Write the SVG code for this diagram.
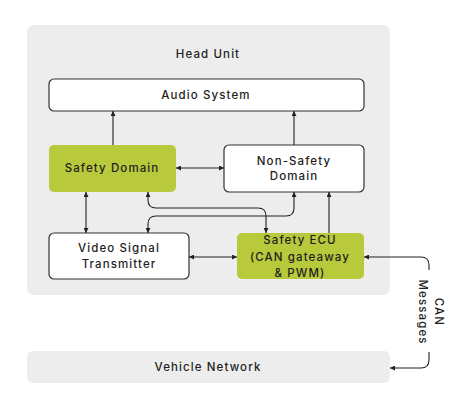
<svg xmlns="http://www.w3.org/2000/svg" width="474" height="412" viewBox="0 0 474 412">
<defs>
<marker id="ah" viewBox="0 0 10 10" refX="10" refY="5" markerWidth="5" markerHeight="5" markerUnits="userSpaceOnUse" orient="auto-start-reverse">
<path d="M0,0 L10,5 L0,10 z" fill="#222"/>
</marker>
<style>
text{font-family:Inter,"Noto Sans","Liberation Sans",sans-serif;font-size:11.5px;font-weight:500;fill:#1e1e1e;letter-spacing:1.1px;text-anchor:middle}
.cont{fill:#ededed}
.wbox{fill:#fff;stroke:#333;stroke-width:1.2}
.gbox{fill:#b8c93c}
.conn path{fill:none;stroke:#222;stroke-width:1.1}
</style>
</defs>
<rect width="474" height="412" fill="#fff"/>
<g id="head-unit">
<rect class="cont" x="27" y="25" width="363" height="270" rx="7"/>
<text x="208" y="58">Head Unit</text>
</g>
<g id="vehicle-network">
<rect class="cont" x="27" y="351" width="363" height="32" rx="6"/>
<text x="208" y="371">Vehicle Network</text>
</g>
<g id="audio-system">
<rect class="wbox" x="49" y="79" width="315" height="32" rx="5"/>
<text x="206" y="99">Audio System</text>
</g>
<g id="safety-domain">
<rect class="gbox" x="49" y="145" width="127" height="47" rx="5"/>
<text x="112" y="172">Safety Domain</text>
</g>
<g id="non-safety-domain">
<rect class="wbox" x="224" y="145" width="140" height="47" rx="5"/>
<text x="294" y="165">Non-Safety</text>
<text x="294" y="180">Domain</text>
</g>
<g id="video-signal-transmitter">
<rect class="wbox" x="49" y="233" width="140" height="46" rx="5"/>
<text x="119" y="252">Video Signal</text>
<text x="119" y="268">Transmitter</text>
</g>
<g id="safety-ecu">
<rect class="gbox" x="237" y="233" width="127" height="46" rx="5"/>
<text x="300" y="244">Safety ECU</text>
<text x="300" y="261">(CAN gateaway</text>
<text x="300" y="277">&amp; PWM)</text>
</g>
<g id="connectors" class="conn">
<path d="M113,145 L113,111" marker-end="url(#ah)"/>
<path d="M294,145 L294,111" marker-end="url(#ah)"/>
<path d="M176,168 L224,168" marker-start="url(#ah)" marker-end="url(#ah)"/>
<path d="M86,192 L86,233" marker-start="url(#ah)" marker-end="url(#ah)"/>
<path d="M189,257 L237,257" marker-start="url(#ah)" marker-end="url(#ah)"/>
<path d="M329,233 L329,192" marker-end="url(#ah)"/>
<path d="M148,192 L148,200 Q148,208 156,208 L258,208 Q266,208 266,216 L266,233" marker-start="url(#ah)" marker-end="url(#ah)"/>
<path d="M294,192 L294,208 Q294,216 286,216 L156,216 Q148,216 148,224 L148,233" marker-start="url(#ah)" marker-end="url(#ah)"/>
<path d="M429,270 L429,265 Q429,257 421,257 L364,257" marker-end="url(#ah)"/>
<path d="M429,352 L429,360 Q429,368 421,368 L390,368" marker-end="url(#ah)"/>
</g>
<g id="can-label">
<text transform="translate(439,312) rotate(90)" y="4">CAN</text>
<text transform="translate(423,312) rotate(90)" y="4">Messages</text>
</g>
</svg>
